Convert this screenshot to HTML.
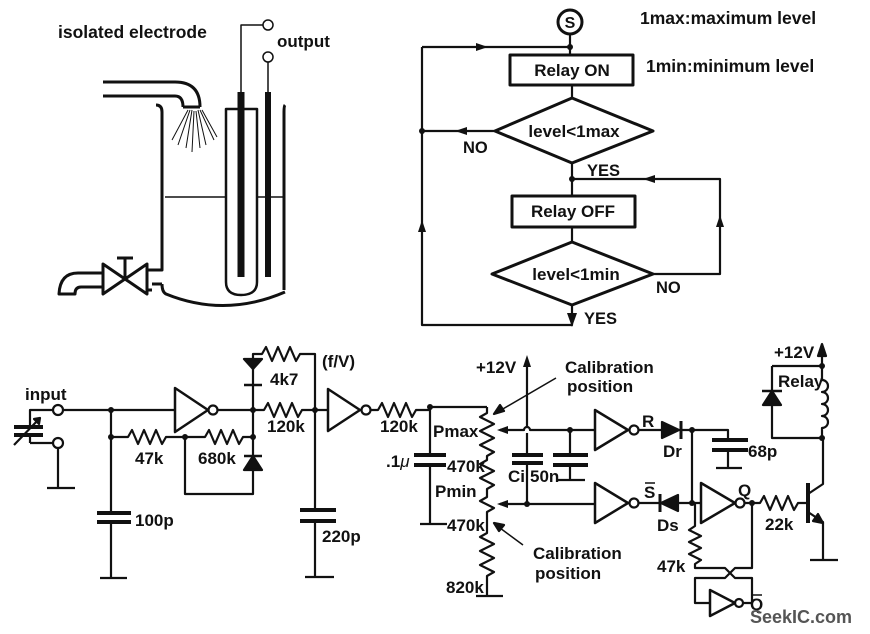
<!DOCTYPE html>
<html><head><meta charset="utf-8"><style>
html,body{margin:0;padding:0;background:#fff;}
svg{display:block;}
text{font-family:"Liberation Sans",sans-serif;font-weight:bold;fill:#111;}
</style></head><body>
<svg width="870" height="634" viewBox="0 0 870 634" xmlns="http://www.w3.org/2000/svg">
<g fill="none" stroke="#111" stroke-width="2.2" stroke-linejoin="round">
<!-- ===== Tank ===== -->
<path d="M103,82 H175 Q200,82 200,107 M103,96 H175 Q183,96 183,107 M183,107 H200" stroke-width="3"/>
<g stroke-width="1">
<path d="M188,110 L172,140 M190,110 L178,145 M192,110 L186,148 M194,111 L192,152 M196,111 L200,148 M198,110 L206,145 M200,110 L214,140 M202,110 L217,137"/>
</g>
<path d="M156,105 Q162,105 162,112 V270 H152 M285,105 Q284,106 284,112 V290" stroke-width="3"/>
<path d="M162,284 Q162,292 166,294 Q225,318 285,292" stroke-width="3"/>
<path d="M152,284 H162" stroke-width="3"/>
<path d="M226,109 H257 V282 Q257,295 241,295 Q226,295 226,282 Z" stroke-width="2.5"/>
<path d="M165,197 H226 M257,197 H283" stroke-width="1.5"/>
<path d="M241,92 V277" stroke-width="7"/>
<path d="M268,92 V277" stroke-width="6"/>
<path d="M241,92 V25 H263 M268,62 V92" stroke-width="1.5"/>
<circle cx="268" cy="25" r="5" stroke-width="1.5"/>
<circle cx="268" cy="57" r="5" stroke-width="1.5"/>
<!-- valve -->
<path d="M103,264 L147,294 V264 L103,294 Z" stroke-width="3"/>
<path d="M125,279 V258 M117,258 H133" stroke-width="3"/>
<path d="M147,270 H152 M147,290 H152" stroke-width="3"/>
<path d="M103,273 H78 Q60,273 59,294 H75 Q75,287 81,287 H103" stroke-width="3"/>

<!-- ===== Flowchart ===== -->
<circle cx="570" cy="22" r="12" stroke-width="3"/>
<path d="M570,34 V55"/>
<rect x="510" y="55" width="123" height="30" stroke-width="3"/>
<path d="M572,85 V98"/>
<path d="M572,98 L653,131 L572,163 L495,131 Z" stroke-width="3"/>
<path d="M572,163 V196"/>
<rect x="512" y="196" width="123" height="31" stroke-width="3"/>
<path d="M572,227 V242"/>
<path d="M572,242 L653,274 L572,305 L492,274 Z" stroke-width="3"/>
<path d="M495,131 H422 M422,47 H570 M422,47 V325 H572 V305"/>
<path d="M653,274 H720 V179 H572"/>
<g fill="#111" stroke="none">
<path d="M488,47 l-12,-4 v8 z"/>
<path d="M455,131 l12,-4 v8 z"/>
<path d="M422,220 l-4,12 h8 z"/>
<path d="M720,215 l-4,12 h8 z"/>
<path d="M643,179 l12,-4 v8 z"/>
<path d="M572,327 l-5,-14 h10 z"/>
<circle cx="570" cy="47" r="3"/><circle cx="422" cy="131" r="3"/><circle cx="572" cy="179" r="3"/>
</g>

<!-- ===== Circuit left ===== -->
<circle cx="58" cy="410" r="5"/><circle cx="58" cy="443" r="5"/>
<path d="M63,410 H175 M53,410 H30 V427 M58,448 V488 M47,488 H75 M30,443 H53"/>
<path d="M14,427 H43 M14,435 H43" stroke-width="4"/>
<path d="M30,435 V443 M14,445 L40,418"/>
<path d="M40,418 l-6,1 l5,5 z" fill="#111"/>
<path d="M175,388 L208,410 L175,432 Z" stroke-width="2.5"/>
<circle cx="213" cy="410" r="4.5"/>
<path d="M218,410 H253"/>
<path d="M111,410 V513 M111,522 V578 M100,578 H127"/>
<path d="M97,513 H131 M97,522 H131" stroke-width="4"/>
<path d="M111,437 H128 l4,-7 l6,14 l6,-14 l6,14 l6,-14 l6,14 l4,-7 H205 l4,-7 l6,14 l6,-14 l6,14 l6,-14 l6,14 l4,-7 H253"/>
<path d="M185,437 V494 H253 V437"/>
<path d="M244,456 H262" stroke-width="2.5"/>
<path d="M253,456 l-9,14 h18 z" fill="#111"/>
<path d="M253,437 V354 H262 l4,-7 l6,14 l6,-14 l6,14 l6,-14 l6,14 l4,-7 H315 V410"/>
<path d="M253,369 l-9,-10 h18 z" fill="#111"/>
<path d="M244,385 H262" stroke-width="2.5"/>
<path d="M253,410 H264 l4,-7 l6,14 l6,-14 l6,14 l6,-14 l6,14 l4,-7 H328"/>
<path d="M315,410 V510 M315,522 V577 M305,577 H334"/>
<path d="M300,510 H336 M300,521 H336" stroke-width="4"/>
<path d="M328,389 L360,410 L328,431 Z" stroke-width="2.5"/>
<circle cx="366" cy="410" r="4.5"/>
<path d="M371,410 H378 l4,-7 l6,14 l6,-14 l6,14 l6,-14 l6,14 l4,-7 H430"/>
<path d="M430,407 V455 M430,465 V524 M420,524 H447"/>
<path d="M414,455 H446 M414,465 H446" stroke-width="4"/>
<path d="M430,407 H487"/>
<path d="M487,407 V413 l-7,4 l14,7 l-14,7 l14,7 l-14,7 l14,7 l-7,4 V460 l-7,4 l14,7 l-14,7 l14,7 l-7,4 V497 l-7,4 l14,7 l-7,4 V533 l-7,4 l14,7 l-14,7 l14,7 l-14,7 l14,7 l-7,4 V596 M476,596 H503"/>
<path d="M500,430 H524 a3,3 0 0 1 6,0 H595"/>
<path d="M500,504 H595"/>
<g fill="#111" stroke="none">
<path d="M497,430 l11,-4 v8 z"/><path d="M497,504 l11,-4 v8 z"/>
<path d="M527,355 l-4,12 h8 z"/>
</g>
<path d="M527,362 V427 M527,433 V455 M527,463 V504"/>
<path d="M512,455 H543 M512,463 H543" stroke-width="4"/>
<path d="M570,430 V455 M570,465 V480 M558,480 H585"/>
<path d="M553,455 H588 M553,465 H588" stroke-width="4"/>
<path d="M556,378 L496,413 M523,545 L496,525" stroke-width="1.5"/>
<path d="M494,414 l10,-3 l-4,-6 z M494,523 l10,2 l-5,6 z" fill="#111"/>
<path d="M595,410 L628,430 L595,450 Z" stroke-width="2.5"/>
<circle cx="634" cy="430" r="4.5"/>
<path d="M639,430 H662 M680,430 H728 V440 M728,450 V468 M716,468 H742"/>
<path d="M662,422 V438 L679,430 Z" fill="#111"/>
<path d="M681,421 V439" stroke-width="3"/>
<path d="M712,440 H748 M712,450 H748" stroke-width="4"/>
<path d="M692,430 V503"/>
<path d="M595,483 L628,503 L595,523 Z" stroke-width="2.5"/>
<circle cx="634" cy="503" r="4.5"/>
<path d="M639,503 H660 M677,503 H700"/>
<path d="M678,495 V511 L661,503 Z" fill="#111"/>
<path d="M660,494 V512" stroke-width="3"/>
<path d="M701,483 L735,503 L701,523 Z" stroke-width="2.5"/>
<circle cx="740" cy="503" r="4.5"/>
<path d="M745,503 H760 l4,-7 l6,14 l6,-14 l6,14 l6,-14 l6,14 l4,-7 H808"/>
<path d="M808,483 V523" stroke-width="4"/>
<path d="M692,503 H695 V526 l-6,4 l12,6 l-12,6 l12,6 l-12,6 l12,6 l-6,4 V568 H725 L735,578 H752 V603 H743"/>
<path d="M752,503 V568 H735 L725,578 H695 V603 H710"/>
<path d="M710,590 L735,603 L710,616 Z" stroke-width="2.5"/>
<circle cx="739" cy="603" r="4"/>
<path d="M808,494 L823,484 V438 M808,512 L823,522 V560 M810,560 H838"/>
<path d="M823,523 l-10,-2 l5,-7 z" fill="#111"/>
<path d="M822,438 V428 a6,6 0 0 0 0,-12 a6,6 0 0 0 0,-12 a6,6 0 0 0 0,-12 a6,6 0 0 0 0,-12 V366 V356"/>
<path d="M822,344 l-4,12 h8 z" fill="#111"/>
<path d="M772,366 H822 M772,366 V438 H822"/>
<path d="M762,391 H782" stroke-width="2.5"/>
<path d="M772,391 l-9,14 h18 z" fill="#111"/>
<g fill="#111" stroke="none">
<circle cx="111" cy="410" r="3"/><circle cx="111" cy="437" r="3"/><circle cx="185" cy="437" r="3"/>
<circle cx="253" cy="410" r="3"/><circle cx="253" cy="437" r="3"/><circle cx="315" cy="410" r="3"/>
<circle cx="430" cy="407" r="3"/><circle cx="570" cy="430" r="3"/><circle cx="527" cy="504" r="3"/>
<circle cx="692" cy="430" r="3"/><circle cx="692" cy="503" r="3"/><circle cx="752" cy="503" r="3"/>
<circle cx="822" cy="366" r="3"/><circle cx="822" cy="438" r="3"/>
</g>
</g>

<!-- ===== Text ===== -->
<text x="58" y="38" font-size="17.5">isolated electrode</text>
<text x="277" y="47" font-size="17">output</text>
<text x="640" y="24" font-size="17.5">1max:maximum level</text>
<text x="646" y="72" font-size="17.5">1min:minimum level</text>
<text x="570" y="28" font-size="16" text-anchor="middle">S</text>
<text x="572" y="76" font-size="17" text-anchor="middle">Relay ON</text>
<text x="574" y="137" font-size="17" text-anchor="middle">level&lt;1max</text>
<text x="573" y="217" font-size="17" text-anchor="middle">Relay OFF</text>
<text x="576" y="280" font-size="17" text-anchor="middle">level&lt;1min</text>
<text x="463" y="153" font-size="16.5">NO</text>
<text x="587" y="176" font-size="16.5">YES</text>
<text x="656" y="293" font-size="16.5">NO</text>
<text x="584" y="324" font-size="16.5">YES</text>

<text x="25" y="400" font-size="17">input</text>
<text x="135" y="464" font-size="17">47k</text>
<text x="198" y="464" font-size="17">680k</text>
<text x="270" y="385" font-size="17">4k7</text>
<text x="322" y="367" font-size="17">(f/V)</text>
<text x="267" y="432" font-size="17">120k</text>
<text x="380" y="432" font-size="17">120k</text>
<text x="135" y="526" font-size="17">100p</text>
<text x="322" y="542" font-size="17">220p</text>
<text x="386" y="467" font-size="17">.1<tspan font-style="italic" font-weight="normal">μ</tspan></text>
<text x="476" y="373" font-size="17">+12V</text>
<text x="565" y="373" font-size="17">Calibration</text>
<text x="567" y="392" font-size="17">position</text>
<text x="533" y="559" font-size="17">Calibration</text>
<text x="535" y="579" font-size="17">position</text>
<text x="433" y="437" font-size="17">Pmax</text>
<text x="447" y="472" font-size="17">470k</text>
<text x="435" y="497" font-size="17">Pmin</text>
<text x="447" y="531" font-size="17">470k</text>
<text x="446" y="593" font-size="17">820k</text>
<text x="508" y="482" font-size="17">Ci</text>
<text x="530" y="482" font-size="17">50n</text>
<text x="642" y="427" font-size="17">R</text>
<text x="663" y="457" font-size="17">Dr</text>
<text x="748" y="457" font-size="17">68p</text>
<text x="644" y="498" font-size="17">S</text>
<path d="M645,483 H655" stroke="#111" stroke-width="1.5"/>
<text x="657" y="531" font-size="17">Ds</text>
<text x="738" y="496" font-size="17">Q</text>
<text x="765" y="530" font-size="17">22k</text>
<text x="657" y="572" font-size="17">47k</text>
<text x="750" y="610" font-size="17">Q</text>
<path d="M751,595 H762" stroke="#111" stroke-width="1.5"/>
<text x="774" y="358" font-size="17">+12V</text>
<text x="778" y="387" font-size="17">Relay</text>
<text x="750" y="623" font-size="18" style="fill:#555">SeekIC.com</text>
</svg>
</body></html>
